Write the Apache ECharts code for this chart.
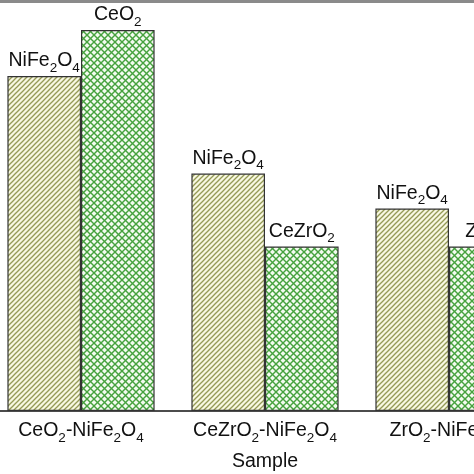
<!DOCTYPE html>
<html>
<head>
<meta charset="utf-8">
<script src="https://cdn.jsdelivr.net/npm/echarts@6/dist/echarts.min.js"></script>
<style>
  html, body { margin: 0; padding: 0; background: #fff; overflow: hidden; }
  /* the reference is a crop of a wider figure, so the chart runs past both edges */
  #chart { width: 552px; height: 474px; margin-left: -11px; }
</style>
</head>
<body>
<div id="chart"></div>
<script>
// data (y axis is not shown, values on a 0-100 scale)
const categories = ['CeO2-NiFe2O4', 'CeZrO2-NiFe2O4', 'ZrO2-NiFe2O4'];
const ferriteValues = [81.7, 57.9, 49.4];
const supportValues = [92.9, 40.1, 40.1];
const ferriteLabel = 'NiFe2O4';
const supportLabels = ['CeO2', 'CeZrO2', 'ZrO2'];

// turn digits into subscripts for rich text
const chem = (s) => s.replace(/(\d)/g, '{s|$1}').replace(/([^}{|\d]+)(?=\{|$)/g, '{n|$1}');

const richText = {
    n: { fontSize: 19.5, color: '#111', fontFamily: 'Liberation Sans', padding: [0, 0, 4, 0], verticalAlign: 'bottom' },
    s: { fontSize: 13.5, color: '#111', fontFamily: 'Liberation Sans', verticalAlign: 'bottom' }
};

// hatch tiles
const makeTile = (size, bg, stroke, width, cross) => {
    const c = document.createElement('canvas');
    c.width = size; c.height = size;
    const ctx = c.getContext('2d');
    ctx.fillStyle = bg;
    ctx.fillRect(0, 0, size, size);
    ctx.strokeStyle = stroke;
    ctx.lineWidth = width;
    const line = (x1, y1, x2, y2) => { ctx.beginPath(); ctx.moveTo(x1, y1); ctx.lineTo(x2, y2); ctx.stroke(); };
    line(-1, size + 1, size + 1, -1);
    line(-1, 1, 1, -1);
    line(size - 1, size + 1, size + 1, size - 1);
    if (cross) {
        line(-1, -1, size + 1, size + 1);
        line(size - 1, -1, size + 1, 1);
        line(-1, size - 1, 1, size + 1);
    }
    return c;
};

const diagTile = makeTile(5, '#f8f8e2', '#949a55', 1.3, false);
const crossTile = makeTile(7, '#f3fbef', '#46a23e', 1.4, true);

const chart = echarts.init(document.getElementById('chart'), null, { renderer: 'canvas' });

const option = {
    animation: false,
    grid: { left: 0, right: 0, top: 1, bottom: 63, outerBoundsMode: 'none' },
    xAxis: [
        {
            type: 'category',
            data: categories,
            axisLine: { lineStyle: { color: '#111', width: 1.5 } },
            axisTick: { show: false },
            axisLabel: {
                interval: 0,
                margin: 10,
                formatter: (v) => chem(v),
                rich: richText
            },
            name: 'Sample',
            nameLocation: 'middle',
            nameGap: 41,
            nameTextStyle: { fontSize: 19.5, color: '#111', fontFamily: 'Liberation Sans' }
        },
        {
            type: 'category',
            position: 'top',
            data: categories,
            axisLine: { lineStyle: { color: '#8a8a8a', width: 3 } },
            axisTick: { show: false },
            axisLabel: { show: false }
        }
    ],
    yAxis: {
        type: 'value',
        min: 0,
        max: 100,
        show: false
    },
    series: [
        {
            type: 'bar',
            data: ferriteValues,
            barGap: '0%',
            barCategoryGap: '20%',
            itemStyle: {
                color: { image: diagTile, repeat: 'repeat' },
                borderColor: '#333',
                borderWidth: 1.2
            },
            label: {
                show: true,
                position: 'top',
                distance: 1,
                formatter: () => chem(ferriteLabel),
                rich: richText
            }
        },
        {
            type: 'bar',
            data: supportValues,
            barGap: '0%',
            barCategoryGap: '20%',
            itemStyle: {
                color: { image: crossTile, repeat: 'repeat' },
                borderColor: '#333',
                borderWidth: 1.2
            },
            label: {
                show: true,
                position: 'top',
                distance: 1,
                formatter: (p) => chem(supportLabels[p.dataIndex]),
                rich: richText
            }
        }
    ]
};

chart.setOption(option);
</script>
</body>
</html>
